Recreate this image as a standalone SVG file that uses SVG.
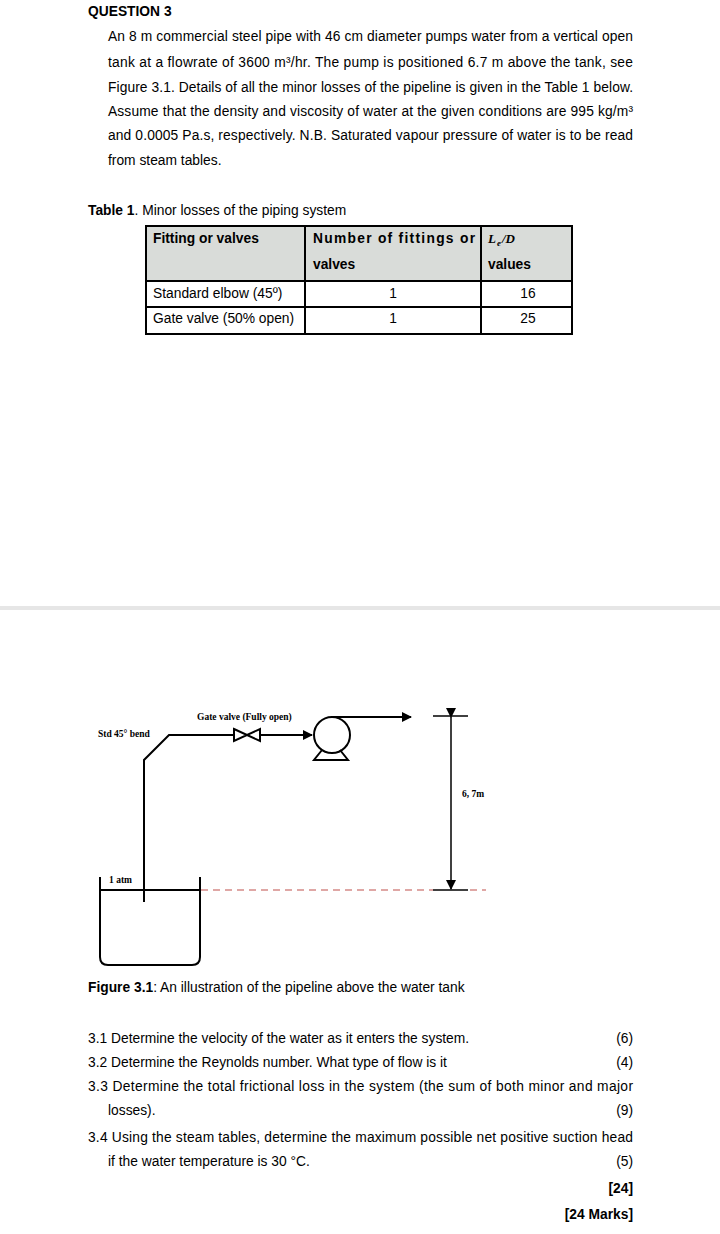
<svg xmlns="http://www.w3.org/2000/svg" width="720" height="1234" viewBox="0 0 720 1234">
<style>
.t{font-family:"Liberation Sans",Arial,sans-serif;font-size:13.8px;fill:#000}
.b{font-weight:bold}
.s{font-family:"Liberation Serif","DejaVu Serif",serif;font-size:9.5px;font-weight:bold;fill:#000}
.p{fill:none;stroke:#000;stroke-width:2}
</style>
<defs>
<marker id="ah" markerWidth="10" markerHeight="10" refX="9" refY="5" orient="auto" markerUnits="userSpaceOnUse"><path d="M0,0 L10,5 L0,10 z" fill="#000"/></marker>
</defs>
<rect width="720" height="1234" fill="#fff"/>
<text class="t b" x="88" y="16">QUESTION 3</text>
<text class="t" x="108" y="41" textLength="525" lengthAdjust="spacing">An 8 m commercial steel pipe with 46 cm diameter pumps water from a vertical open</text>
<text class="t" x="108" y="67" textLength="525" lengthAdjust="spacing">tank at a flowrate of 3600 m³/hr. The pump is positioned 6.7 m above the tank, see</text>
<text class="t" x="108" y="92" textLength="525" lengthAdjust="spacing">Figure 3.1. Details of all the minor losses of the pipeline is given in the Table 1 below.</text>
<text class="t" x="108" y="116" textLength="525" lengthAdjust="spacing">Assume that the density and viscosity of water at the given conditions are 995 kg/m³</text>
<text class="t" x="108" y="140" textLength="525" lengthAdjust="spacing">and 0.0005 Pa.s, respectively. N.B. Saturated vapour pressure of water is to be read</text>
<text class="t" x="108" y="165">from steam tables.</text>
<text class="t" x="88" y="215"><tspan class="b">Table 1</tspan>. Minor losses of the piping system</text>
<g id="table">
<rect x="147" y="227" width="425" height="54" fill="#d9dcd9"/>
<g fill="none" stroke="#000" stroke-width="2">
<rect x="146" y="226" width="426" height="108"/>
<line x1="146" y1="281" x2="572" y2="281"/>
<line x1="146" y1="307" x2="572" y2="307"/>
<line x1="305" y1="226" x2="305" y2="334"/>
<line x1="481" y1="226" x2="481" y2="334"/>
</g>
<text class="t b" x="153" y="243">Fitting or valves</text>
<text class="t b" x="313" y="243" textLength="162" lengthAdjust="spacing">Number of fittings or</text>
<text class="t b" x="313" y="269">valves</text>
<text x="488" y="243" font-family="'Liberation Serif',serif" font-size="13" font-weight="bold" font-style="italic">L<tspan font-size="9" dx="1" dy="3">e</tspan><tspan dx="1" dy="-3">/D</tspan></text>
<text class="t b" x="488" y="269">values</text>
<text class="t" x="153" y="298">Standard elbow (45º)</text>
<text class="t" x="393" y="298" text-anchor="middle">1</text>
<text class="t" x="528" y="298" text-anchor="middle">16</text>
<text class="t" x="153" y="323">Gate valve (50% open)</text>
<text class="t" x="393" y="323" text-anchor="middle">1</text>
<text class="t" x="528" y="323" text-anchor="middle">25</text>
</g>
<rect x="0" y="606" width="720" height="4" fill="#e6e6e6"/>
<g id="tank">
<path class="p" d="M100,877 V957 Q100,965 108,965 H192 Q200,965 200,957 V877"/>
<line class="p" x1="100" y1="890" x2="200" y2="890"/>
<text class="s" x="109" y="883">1 atm</text>
</g>
<g id="pump">
<circle class="p" cx="332" cy="735" r="18"/>
<path class="p" d="M322,750 L314,760 H348 L340,750"/>
</g>
<g id="valve">
<path class="p" d="M234,729 L260,741 V729 L234,741 z"/>
<text class="s" x="197" y="720">Gate valve (Fully open)</text>
</g>
<text class="s" x="98" y="737">Std 45° bend</text>
<g id="connectors">
<path class="p" d="M144,902 V760 L169,735 H234"/>
<line class="p" x1="260" y1="735" x2="312" y2="735" marker-end="url(#ah)"/>
<line class="p" x1="332" y1="717" x2="411" y2="717" marker-end="url(#ah)"/>
<line stroke="#000" stroke-width="1.5" x1="433" y1="716" x2="468" y2="716"/>
<line stroke="#000" stroke-width="1.5" x1="433" y1="890" x2="468" y2="890"/>
<line stroke="#000" stroke-width="1.5" x1="451" y1="717" x2="451" y2="889" marker-start="url(#ah)" marker-end="url(#ah)"/>
<line stroke="#c0504d" stroke-width="1.2" stroke-dasharray="7,5" x1="201" y1="890" x2="433" y2="890"/>
<line stroke="#c0504d" stroke-width="1.2" stroke-dasharray="7,5" x1="470" y1="890" x2="486" y2="890"/>
<text class="s" x="462" y="797">6, 7m</text>
</g>
<text class="t" x="88" y="992"><tspan class="b">Figure 3.1</tspan>: An illustration of the pipeline above the water tank</text>
<text class="t" x="88" y="1043">3.1 Determine the velocity of the water as it enters the system.</text>
<text class="t" x="633" y="1043" text-anchor="end">(6)</text>
<text class="t" x="88" y="1067">3.2 Determine the Reynolds number. What type of flow is it</text>
<text class="t" x="633" y="1067" text-anchor="end">(4)</text>
<text class="t" x="88" y="1091" textLength="545" lengthAdjust="spacing">3.3 Determine the total frictional loss in the system (the sum of both minor and major</text>
<text class="t" x="108" y="1115">losses).</text>
<text class="t" x="633" y="1115" text-anchor="end">(9)</text>
<text class="t" x="88" y="1142" textLength="545" lengthAdjust="spacing">3.4 Using the steam tables, determine the maximum possible net positive suction head</text>
<text class="t" x="108" y="1166">if the water temperature is 30 °C.</text>
<text class="t" x="633" y="1166" text-anchor="end">(5)</text>
<text class="t b" x="633" y="1193" text-anchor="end">[24]</text>
<text class="t b" x="633" y="1219" text-anchor="end">[24 Marks]</text>
</svg>
